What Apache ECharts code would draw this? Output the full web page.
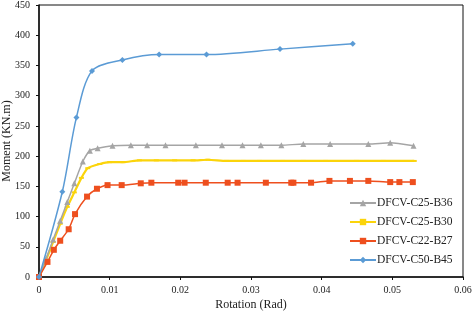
<!DOCTYPE html>
<html>
<head>
<meta charset="utf-8">
<script src="https://cdn.jsdelivr.net/npm/echarts@6/dist/echarts.min.js"></script>
<style>
    html, body { margin: 0; padding: 0; background: #fff; }
    #chart { width: 474px; height: 312px; }
</style>
</head>
<body>
<div id="chart"></div>
<script>
    // rotation (rad) / moment (KN.m) pairs
    let b36X = [0, 0.001, 0.002, 0.003, 0.004, 0.005, 0.0062, 0.0072, 0.0083, 0.0104, 0.013, 0.0153, 0.0179, 0.0222, 0.0259, 0.0288, 0.0314, 0.0343, 0.0374, 0.0412, 0.0466, 0.0497, 0.053]
    let b36Y = [0, 30, 62, 93, 124, 155, 191, 209, 213, 217, 218, 218, 218, 218, 218, 218, 218, 218, 220, 220, 220, 222, 217]

    let b30X = [0, 0.001, 0.002, 0.003, 0.004, 0.005, 0.006, 0.0069, 0.0086, 0.01, 0.0119, 0.0142, 0.0166, 0.0192, 0.0218, 0.0239, 0.0265, 0.0289, 0.0312, 0.0345, 0.0374, 0.0406, 0.0449, 0.0487, 0.0531]
    let b30Y = [0, 28, 58, 88, 116, 140, 164, 180, 187, 190, 190, 193, 193, 193, 193, 194, 192, 192, 192, 192, 192, 192, 192, 192, 192]

    let b27X = [0, 0.0012, 0.0021, 0.003, 0.0042, 0.0051, 0.0068, 0.0082, 0.0097, 0.0117, 0.0144, 0.0159, 0.0197, 0.0206, 0.0236, 0.0267, 0.0281, 0.0321, 0.0357, 0.036, 0.0385, 0.0411, 0.044, 0.0466, 0.0497, 0.051, 0.0529]
    let b27Y = [0, 25, 45, 60, 79, 104, 133, 146, 152, 152, 155, 156, 156, 156, 156, 156, 156, 156, 156, 156, 156, 159, 159, 159, 157, 157, 157]

    let b45X = [0, 0.0033, 0.0053, 0.0075, 0.0118, 0.017, 0.0237, 0.0341, 0.0444]
    let b45Y = [0, 141, 264, 341, 359, 368, 368, 377, 386]

    let xTicks = [0, 0.01, 0.02, 0.03, 0.04, 0.05, 0.06]
    let yTicks = [0, 50, 100, 150, 200, 250, 300, 350, 400, 450]

    let fontName = '"Liberation Serif", "DejaVu Serif", serif'
    let textColor = '#222'

    function pairs(xs, ys) {
        return xs.map((x, i) => [x, ys[i]])
    }

    let chart = echarts.init(document.getElementById('chart'))
    const options = {
        animation: false,
        grid: {
            left: 39,
            right: 11,
            top: 5,
            bottom: 35,
            outerBoundsMode: 'none',
            containLabel: false,
            show: true,
            borderColor: '#111',
            borderWidth: 1
        },
        legend: {
            orient: 'vertical',
            left: 344,
            top: 192,
            itemWidth: 26,
            itemHeight: 8,
            itemGap: 7,
            textStyle: {
                fontFamily: fontName,
                fontSize: 11.5,
                color: textColor,
                padding: [0, 0, 0, -4]
            },
            data: ['DFCV-C25-B36', 'DFCV-C25-B30', 'DFCV-C22-B27', 'DFCV-C50-B45']
        },
        xAxis: {
            type: 'value',
            min: 0,
            max: 0.06,
            interval: 0.01,
            name: 'Rotation (Rad)',
            nameLocation: 'middle',
            nameGap: 22,
            nameMoveOverlap: false,
            nameTextStyle: { fontFamily: fontName, fontSize: 12, color: textColor },
            axisLine: { show: true, lineStyle: { color: '#111', width: 1.5 } },
            axisTick: { show: true, inside: false, length: 3, lineStyle: { color: '#111' } },
            splitLine: { show: false },
            axisLabel: {
                fontFamily: fontName,
                fontSize: 10,
                color: textColor,
                margin: 8,
                formatter: v => xTicks.includes(+v.toFixed(2)) ? String(+v.toFixed(2)) : ''
            }
        },
        yAxis: {
            type: 'value',
            min: 0,
            max: 450,
            interval: 50,
            name: 'Moment (KN.m)',
            nameLocation: 'middle',
            nameGap: 26,
            nameMoveOverlap: false,
            nameTextStyle: { fontFamily: fontName, fontSize: 12, color: textColor },
            axisLine: { show: true, lineStyle: { color: '#111', width: 1.5 } },
            axisTick: { show: true, inside: false, length: 3, lineStyle: { color: '#111' } },
            splitLine: { show: false },
            axisLabel: {
                fontFamily: fontName,
                fontSize: 10,
                color: textColor,
                margin: 9,
                formatter: v => yTicks.includes(v) ? String(v) : ''
            }
        },
        series: [
            {
                name: 'DFCV-C25-B36',
                type: 'line',
                smooth: 0.2,
                data: pairs(b36X, b36Y),
                symbol: 'triangle',
                symbolSize: 6,
                showAllSymbol: true,
                lineStyle: { color: '#a5a5a5', width: 1.5 },
                itemStyle: { color: '#a5a5a5' },
                z: 3
            },
            {
                name: 'DFCV-C25-B30',
                type: 'line',
                smooth: 0.2,
                data: pairs(b30X, b30Y),
                symbol: 'rect',
                symbolSize: [5, 2],
                showAllSymbol: true,
                lineStyle: { color: '#fbd40b', width: 2.2 },
                itemStyle: { color: '#fbd40b' },
                z: 2
            },
            {
                name: 'DFCV-C22-B27',
                type: 'line',
                smooth: 0.2,
                data: pairs(b27X, b27Y),
                symbol: 'rect',
                symbolSize: 6,
                showAllSymbol: true,
                lineStyle: { color: '#ee4f1e', width: 1.5 },
                itemStyle: { color: '#ee4f1e' },
                z: 4
            },
            {
                name: 'DFCV-C50-B45',
                type: 'line',
                smooth: 0.3,
                data: pairs(b45X, b45Y),
                symbol: 'diamond',
                symbolSize: 6,
                showAllSymbol: true,
                lineStyle: { color: '#5b9bd5', width: 1.5 },
                itemStyle: { color: '#5b9bd5' },
                z: 5
            }
        ]
    }
    chart.setOption(options)
</script>
</body>
</html>
